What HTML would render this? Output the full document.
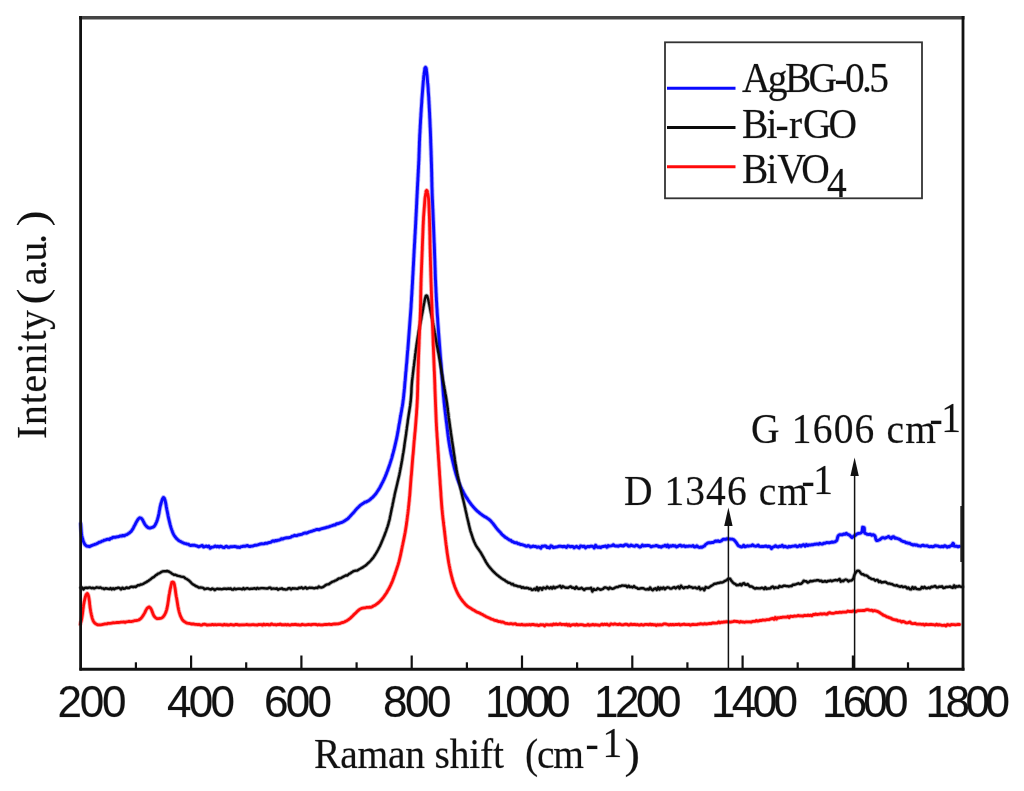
<!DOCTYPE html>
<html lang="en">
<head>
<meta charset="utf-8">
<title>Raman spectra</title>
<style>
  html, body { margin:0; padding:0; background:#fff; }
  body { width:1024px; height:791px; overflow:hidden; }
  svg { display:block; }
  .serif { font-family:"Liberation Serif", serif; font-size:42px; fill:#111; stroke:#111; stroke-opacity:0.3; stroke-width:0.6px; paint-order:stroke fill; }
  .sans { font-family:"Liberation Sans", sans-serif; font-size:44px; fill:#111; stroke:#111; stroke-opacity:0.3; stroke-width:0.5px; paint-order:stroke fill; }
</style>
</head>
<body>
<svg width="1024" height="791" viewBox="0 0 1024 791">
  <defs>
    <path id="cBlue" d="M80.7,523.7 80.8,525.0 80.9,526.4 81.0,527.7 81.1,529.1 81.2,530.4 81.3,531.8 81.4,533.1 81.6,534.4 81.8,535.8 82.1,537.2 82.5,538.5 82.9,539.8 83.3,541.0 83.7,542.1 84.2,543.2 84.8,544.3 85.5,545.2 86.7,546.1 88.3,546.3 89.4,546.6 90.4,546.1 91.5,545.6 92.8,545.1 94.1,544.7 95.4,544.2 96.6,543.8 97.9,543.1 99.2,542.2 100.5,542.1 101.8,541.2 103.1,540.9 104.4,540.1 105.6,540.0 106.8,539.4 108.0,539.2 109.3,539.6 110.5,538.4 111.7,538.2 113.0,537.3 114.2,537.3 115.4,537.3 116.6,536.9 117.9,536.8 119.1,536.5 120.3,535.9 121.6,536.1 122.9,535.4 124.3,535.9 125.6,534.9 126.9,534.6 128.1,533.8 129.2,533.1 130.3,532.1 131.2,531.3 132.0,530.2 132.7,529.2 133.3,528.1 133.8,527.0 134.4,525.8 135.1,524.7 135.7,523.4 136.3,522.2 137.0,521.0 137.7,519.9 138.6,518.6 139.8,517.8 141.0,518.1 142.0,519.0 142.7,520.1 143.3,521.3 143.9,522.5 144.5,523.7 145.2,524.8 146.1,525.9 147.2,527.0 148.4,527.8 150.0,528.1 151.6,527.6 152.9,527.2 154.0,526.5 154.9,525.4 155.5,524.3 156.0,523.2 156.5,522.1 157.0,520.9 157.4,519.7 157.7,518.5 158.1,517.3 158.4,515.9 158.7,514.6 159.0,513.3 159.2,511.9 159.4,510.6 159.7,509.2 159.9,507.9 160.2,506.5 160.5,505.3 160.9,504.0 161.2,502.7 161.6,501.5 162.0,500.2 162.4,499.1 163.4,497.4 164.4,498.4 165.0,500.1 165.3,501.4 165.6,502.7 165.9,504.1 166.1,505.4 166.3,506.8 166.6,508.1 166.8,509.5 167.1,510.8 167.4,512.1 167.6,513.4 167.9,514.7 168.1,516.0 168.4,517.3 168.7,518.6 169.0,519.9 169.3,521.1 169.6,522.4 169.9,523.7 170.2,524.9 170.6,526.2 170.9,527.4 171.3,528.6 171.7,529.8 172.2,531.0 172.6,532.2 173.1,533.4 173.6,534.4 174.2,535.5 174.9,536.5 175.6,537.4 176.3,538.3 177.3,539.2 178.3,540.2 179.5,540.9 180.6,541.5 181.9,542.2 183.1,542.8 184.4,543.4 185.8,543.6 187.1,544.1 188.3,544.1 189.6,545.2 190.8,545.5 192.1,545.2 193.3,545.3 194.6,545.2 195.9,545.8 197.2,546.0 198.5,546.9 199.7,546.3 201.0,546.0 202.3,545.4 203.6,547.0 204.9,546.6 206.2,546.0 207.5,546.8 208.8,546.1 210.1,548.2 211.4,547.3 212.6,547.1 213.9,546.8 215.2,546.0 216.5,546.8 217.8,546.3 219.1,547.1 220.4,546.1 221.7,546.6 223.0,547.4 224.2,547.6 225.5,546.5 226.8,546.3 228.1,547.3 229.4,547.3 230.7,546.6 232.0,546.7 233.3,546.6 234.6,546.4 235.8,546.6 237.1,547.3 238.4,547.0 239.7,547.5 241.0,546.6 242.3,546.5 243.6,546.1 244.9,546.3 246.2,545.8 247.4,545.5 248.7,546.3 250.0,546.5 251.3,546.1 252.6,546.1 253.9,545.6 255.2,545.1 256.5,545.2 257.8,544.8 259.0,544.4 260.4,544.0 261.7,543.8 263.0,543.9 264.3,543.7 265.6,543.2 266.9,543.4 268.2,542.7 269.4,542.5 270.7,542.3 271.9,541.4 273.1,540.8 274.3,541.3 275.5,540.5 276.7,540.8 277.9,540.2 279.1,540.1 280.3,539.7 281.5,538.6 282.8,539.1 284.2,538.3 285.5,538.0 286.9,537.8 288.2,537.8 289.5,537.5 290.9,537.2 292.2,536.1 293.4,536.1 294.6,535.3 295.8,535.7 297.0,535.6 298.2,534.9 299.4,534.8 300.6,534.5 301.8,534.4 303.0,533.6 304.2,533.2 305.4,532.9 306.5,533.2 307.7,532.6 308.9,532.0 310.1,531.7 311.3,531.3 312.5,531.0 313.7,530.5 315.0,530.1 316.4,529.5 317.7,529.4 319.1,529.8 320.4,529.1 321.8,528.7 323.1,528.3 324.4,528.0 325.7,527.8 326.9,527.2 328.1,527.1 329.3,526.7 330.5,526.1 331.6,525.8 332.8,525.4 334.0,525.0 335.2,525.0 336.4,523.8 337.6,523.8 338.9,523.3 340.1,522.8 341.3,522.5 342.5,522.1 343.7,521.4 344.8,520.7 345.9,520.0 347.0,519.3 347.9,518.6 348.9,517.6 349.8,516.6 350.6,515.7 351.5,514.7 352.4,513.8 353.3,512.9 354.2,511.8 355.0,510.8 355.9,509.8 356.8,508.7 357.7,507.8 358.6,507.0 359.6,506.0 360.5,505.1 361.5,504.4 362.5,503.8 363.5,503.2 364.6,502.2 365.8,502.1 367.1,501.4 368.2,500.9 369.3,500.2 370.3,499.4 371.3,498.4 372.3,497.6 373.3,496.6 374.2,495.7 375.0,494.7 375.9,493.7 376.7,492.5 377.5,491.3 378.2,490.2 378.9,489.1 379.6,488.0 380.3,486.7 380.9,485.5 381.5,484.3 382.1,483.1 382.8,481.9 383.3,480.7 383.9,479.6 384.4,478.4 384.9,477.3 385.4,476.1 385.9,474.9 386.4,473.7 386.8,472.5 387.3,471.3 387.8,470.1 388.2,468.8 388.6,467.6 389.1,466.4 389.5,465.1 389.9,463.9 390.3,462.6 390.7,461.4 391.1,460.1 391.5,458.9 391.9,457.6 392.2,456.3 392.6,455.0 392.9,453.7 393.3,452.4 393.6,451.1 394.0,449.8 394.3,448.5 394.6,447.2 394.9,445.9 395.2,444.6 395.5,443.3 395.8,442.0 396.1,440.7 396.4,439.4 396.7,438.2 396.9,436.9 397.2,435.7 397.4,434.4 397.6,433.2 397.9,431.9 398.1,430.7 398.3,429.4 398.5,428.2 398.7,426.9 398.9,425.7 399.1,424.4 399.4,423.2 399.6,421.9 399.8,420.7 400.0,419.4 400.2,418.2 400.4,416.9 400.7,415.6 400.9,414.3 401.1,413.0 401.4,411.7 401.6,410.4 401.8,409.1 402.0,407.8 402.3,406.5 402.5,405.2 402.7,403.9 402.9,402.6 403.0,401.3 403.2,400.0 403.4,398.7 403.5,397.4 403.7,396.1 403.8,394.7 403.9,393.4 404.1,392.1 404.2,390.8 404.3,389.5 404.5,388.2 404.6,386.8 404.7,385.5 404.8,384.2 404.9,382.9 405.0,381.6 405.2,380.2 405.3,378.9 405.4,377.6 405.5,376.3 405.6,375.0 405.7,373.6 405.8,372.3 406.0,371.0 406.1,369.7 406.2,368.4 406.3,367.0 406.4,365.7 406.5,364.4 406.7,363.1 406.8,361.8 406.9,360.5 407.0,359.1 407.1,357.8 407.2,356.5 407.3,355.2 407.4,353.9 407.5,352.6 407.6,351.2 407.8,349.9 407.9,348.6 408.0,347.3 408.1,346.0 408.2,344.7 408.3,343.3 408.4,342.0 408.5,340.7 408.6,339.4 408.7,338.1 408.8,336.7 408.9,335.4 409.0,334.1 409.1,332.8 409.2,331.4 409.3,330.1 409.4,328.8 409.5,327.5 409.6,326.2 409.7,324.8 409.8,323.5 409.9,322.2 410.0,320.9 410.1,319.6 410.2,318.2 410.3,316.9 410.4,315.6 410.5,314.3 410.6,312.9 410.7,311.6 410.8,310.3 410.9,309.0 411.0,307.7 411.1,306.3 411.1,305.0 411.2,303.7 411.3,302.4 411.4,301.1 411.5,299.8 411.5,298.4 411.6,297.1 411.7,295.8 411.8,294.5 411.9,293.2 411.9,291.9 412.0,290.5 412.1,289.2 412.2,287.9 412.2,286.6 412.3,285.3 412.4,284.0 412.5,282.6 412.5,281.3 412.6,280.0 412.7,278.7 412.7,277.4 412.8,276.0 412.9,274.7 413.0,273.4 413.0,272.1 413.1,270.8 413.2,269.5 413.2,268.1 413.3,266.8 413.4,265.5 413.5,264.2 413.5,262.9 413.6,261.5 413.7,260.2 413.7,258.9 413.8,257.6 413.9,256.3 413.9,255.0 414.0,253.6 414.1,252.3 414.1,251.0 414.2,249.7 414.3,248.4 414.4,247.0 414.4,245.7 414.5,244.4 414.6,243.1 414.7,241.8 414.7,240.5 414.8,239.1 414.9,237.8 414.9,236.5 415.0,235.2 415.1,233.9 415.2,232.6 415.2,231.2 415.3,229.9 415.4,228.6 415.5,227.3 415.5,226.0 415.6,224.7 415.7,223.3 415.7,222.0 415.8,220.7 415.9,219.4 415.9,218.1 416.0,216.7 416.1,215.4 416.1,214.1 416.2,212.8 416.3,211.4 416.3,210.1 416.4,208.8 416.5,207.5 416.5,206.2 416.6,204.8 416.7,203.5 416.7,202.2 416.8,200.9 416.8,199.6 416.9,198.2 417.0,196.9 417.0,195.6 417.1,194.3 417.2,192.9 417.2,191.6 417.3,190.3 417.4,189.0 417.4,187.7 417.5,186.3 417.6,185.0 417.6,183.7 417.7,182.4 417.8,181.1 417.9,179.8 417.9,178.4 418.0,177.1 418.1,175.8 418.1,174.5 418.2,173.2 418.3,171.9 418.3,170.5 418.4,169.2 418.5,167.9 418.5,166.6 418.6,165.3 418.7,164.0 418.7,162.6 418.8,161.3 418.9,160.0 418.9,158.7 419.0,157.5 419.0,156.2 419.0,154.9 419.1,153.7 419.1,152.4 419.2,151.1 419.2,149.9 419.2,148.6 419.3,147.3 419.3,146.1 419.4,144.8 419.4,143.5 419.4,142.3 419.5,141.0 419.6,139.7 419.6,138.3 419.7,137.0 419.7,135.7 419.8,134.3 419.9,133.0 420.0,131.7 420.0,130.3 420.1,129.0 420.2,127.6 420.2,126.3 420.3,125.0 420.4,123.6 420.5,122.3 420.5,121.0 420.6,119.6 420.7,118.3 420.8,117.0 420.9,115.8 420.9,114.5 421.0,113.2 421.1,112.0 421.2,110.7 421.2,109.4 421.3,108.2 421.4,106.9 421.5,105.6 421.6,104.4 421.7,103.1 421.8,101.8 421.8,100.6 421.9,99.3 422.0,98.0 422.1,96.8 422.2,95.5 422.3,94.2 422.4,92.9 422.5,91.6 422.6,90.3 422.7,89.0 422.8,87.7 422.9,86.4 423.0,85.1 423.1,83.8 423.2,82.5 423.3,81.2 423.5,79.9 423.6,78.6 423.7,77.3 423.8,76.1 424.0,74.9 424.1,73.6 424.3,72.4 424.5,71.2 424.7,70.0 424.8,68.3 425.5,67.3 426.2,68.3 426.3,70.0 426.5,71.2 426.7,72.4 426.8,73.6 427.0,74.9 427.1,76.1 427.2,77.3 427.3,78.6 427.4,79.9 427.5,81.2 427.6,82.5 427.8,83.8 427.9,85.1 428.0,86.4 428.1,87.7 428.2,89.0 428.2,90.3 428.3,91.6 428.4,92.9 428.5,94.2 428.6,95.5 428.7,96.8 428.8,98.0 428.8,99.3 428.9,100.6 429.0,101.8 429.0,103.1 429.1,104.4 429.2,105.6 429.2,106.9 429.3,108.2 429.4,109.4 429.4,110.7 429.5,112.0 429.6,113.2 429.6,114.5 429.7,115.8 429.7,117.0 429.8,118.3 429.9,119.6 429.9,121.0 430.0,122.3 430.0,123.6 430.1,125.0 430.1,126.3 430.2,127.6 430.3,129.0 430.3,130.3 430.4,131.7 430.4,133.0 430.5,134.3 430.5,135.7 430.6,137.0 430.6,138.3 430.7,139.7 430.7,141.0 430.7,142.3 430.8,143.6 430.8,145.0 430.9,146.3 430.9,147.6 431.0,148.9 431.0,150.2 431.1,151.5 431.1,152.9 431.1,154.2 431.2,155.5 431.2,156.8 431.3,158.1 431.3,159.5 431.3,160.8 431.4,162.1 431.4,163.4 431.5,164.7 431.5,166.0 431.5,167.4 431.6,168.7 431.6,170.0 431.6,171.3 431.7,172.5 431.7,173.8 431.7,175.1 431.7,176.3 431.8,177.6 431.8,178.9 431.8,180.2 431.8,181.4 431.9,182.7 431.9,184.0 431.9,185.2 431.9,186.5 432.0,187.8 432.0,189.0 432.1,190.3 432.1,191.6 432.1,192.9 432.2,194.3 432.2,195.6 432.3,196.9 432.3,198.2 432.4,199.6 432.5,200.9 432.5,202.2 432.6,203.5 432.6,204.8 432.7,206.2 432.7,207.5 432.8,208.8 432.9,210.1 432.9,211.4 433.0,212.8 433.0,214.1 433.1,215.4 433.1,216.7 433.2,218.1 433.2,219.4 433.3,220.7 433.4,222.0 433.4,223.3 433.5,224.7 433.5,226.0 433.6,227.3 433.6,228.6 433.7,229.9 433.7,231.2 433.8,232.6 433.8,233.9 433.9,235.2 433.9,236.5 434.0,237.8 434.0,239.1 434.1,240.5 434.1,241.8 434.2,243.1 434.3,244.4 434.3,245.7 434.4,247.0 434.4,248.4 434.5,249.7 434.5,251.0 434.5,252.3 434.6,253.6 434.6,255.0 434.7,256.3 434.7,257.6 434.8,258.9 434.8,260.2 434.9,261.5 434.9,262.9 434.9,264.2 435.0,265.5 435.0,266.8 435.1,268.1 435.1,269.5 435.2,270.8 435.2,272.1 435.2,273.4 435.3,274.7 435.3,276.0 435.4,277.4 435.4,278.7 435.5,280.0 435.6,281.3 435.6,282.6 435.7,284.0 435.7,285.3 435.8,286.6 435.9,287.9 435.9,289.2 436.0,290.5 436.0,291.9 436.1,293.2 436.2,294.5 436.2,295.8 436.3,297.1 436.4,298.4 436.4,299.8 436.5,301.1 436.6,302.4 436.7,303.7 436.7,305.0 436.8,306.3 436.9,307.7 437.0,309.0 437.1,310.3 437.1,311.6 437.2,312.9 437.3,314.3 437.4,315.6 437.5,316.9 437.6,318.2 437.7,319.6 437.7,320.9 437.8,322.2 437.9,323.5 438.0,324.8 438.1,326.2 438.2,327.5 438.3,328.8 438.4,330.1 438.5,331.5 438.6,332.8 438.7,334.1 438.8,335.4 438.9,336.7 439.0,338.1 439.1,339.4 439.2,340.7 439.3,342.0 439.4,343.3 439.5,344.7 439.6,346.0 439.7,347.3 439.8,348.6 439.9,349.9 440.0,351.2 440.1,352.6 440.2,353.9 440.3,355.2 440.4,356.5 440.5,357.8 440.6,359.1 440.8,360.5 440.9,361.8 441.0,363.1 441.1,364.4 441.2,365.7 441.3,367.0 441.4,368.4 441.5,369.7 441.6,371.0 441.7,372.3 441.8,373.6 441.9,375.0 442.0,376.3 442.1,377.6 442.2,378.9 442.3,380.2 442.4,381.5 442.5,382.9 442.6,384.2 442.7,385.5 442.8,386.8 442.9,388.1 443.0,389.5 443.1,390.8 443.2,392.1 443.3,393.4 443.4,394.7 443.5,396.0 443.7,397.4 443.8,398.7 443.9,400.0 444.0,401.3 444.1,402.5 444.3,403.8 444.4,405.1 444.5,406.3 444.7,407.6 444.8,408.9 445.0,410.1 445.1,411.4 445.3,412.6 445.4,413.9 445.6,415.2 445.7,416.4 445.9,417.7 446.0,419.0 446.2,420.2 446.3,421.5 446.5,422.8 446.7,424.0 446.8,425.3 447.0,426.5 447.1,427.8 447.3,429.1 447.4,430.3 447.6,431.6 447.7,432.9 447.9,434.1 448.0,435.4 448.2,436.7 448.4,437.9 448.5,439.2 448.7,440.5 448.9,441.7 449.1,443.0 449.3,444.2 449.5,445.5 449.7,446.8 450.0,448.1 450.2,449.4 450.4,450.7 450.7,452.0 450.9,453.3 451.2,454.6 451.5,455.9 451.8,457.2 452.1,458.5 452.4,459.8 452.7,461.1 453.0,462.4 453.3,463.7 453.6,464.9 453.9,466.2 454.2,467.4 454.5,468.6 454.8,469.8 455.2,471.1 455.5,472.3 455.8,473.5 456.2,474.7 456.6,475.9 456.9,477.1 457.3,478.3 457.7,479.5 458.2,480.7 458.6,481.9 459.1,483.1 459.6,484.3 460.1,485.5 460.6,486.8 461.2,487.9 461.8,489.1 462.4,490.2 463.0,491.4 463.6,492.6 464.2,493.7 464.9,494.9 465.5,496.0 466.2,497.1 466.9,498.2 467.6,499.2 468.3,500.3 469.0,501.3 469.7,502.4 470.5,503.4 471.2,504.5 472.0,505.4 472.8,506.3 473.6,507.3 474.5,508.2 475.3,509.1 476.2,510.0 477.1,511.0 478.0,511.7 479.0,512.5 480.0,513.3 481.0,514.1 482.0,514.8 483.0,515.6 484.0,516.2 485.1,516.9 486.2,517.4 487.2,518.2 488.3,518.8 489.3,519.6 490.2,520.4 491.1,521.3 492.0,522.4 492.9,523.4 493.7,524.5 494.5,525.5 495.3,526.6 496.1,527.7 496.9,528.7 497.8,529.7 498.7,530.8 499.6,531.7 500.5,532.5 501.4,533.8 502.4,534.8 503.3,535.5 504.3,536.4 505.4,537.4 506.4,537.8 507.5,538.7 508.5,539.3 509.6,540.1 510.8,540.3 511.9,541.6 513.1,541.8 514.2,542.5 515.5,542.8 516.7,542.7 517.9,543.7 519.2,543.7 520.5,544.6 521.8,544.5 523.1,545.0 524.3,545.3 525.6,546.1 526.9,546.3 528.1,545.5 529.4,546.1 530.6,547.1 531.9,546.7 533.2,546.0 534.5,546.5 535.7,546.4 537.0,547.3 538.3,546.8 539.5,547.1 540.8,548.2 542.0,546.1 543.3,546.3 544.6,545.9 545.8,546.0 547.1,547.5 548.4,547.2 549.6,547.9 550.9,545.7 552.2,546.3 553.5,547.6 554.8,547.2 556.1,547.0 557.4,546.9 558.7,546.3 560.0,546.2 561.5,546.4 562.7,546.9 564.0,546.3 565.3,546.7 566.5,547.4 567.8,545.8 569.1,546.1 570.3,546.9 571.6,546.4 572.9,546.5 574.1,547.8 575.4,546.8 576.6,546.3 577.9,547.3 579.2,548.1 580.4,545.9 581.7,546.2 583.0,546.7 584.2,546.2 585.5,547.9 586.8,546.9 588.0,546.4 589.3,546.9 590.5,546.1 591.8,546.2 593.1,546.6 594.3,548.0 595.6,545.2 596.9,546.8 598.1,547.3 599.4,546.9 600.7,547.6 601.9,546.7 603.2,546.5 604.4,546.3 605.7,545.9 607.0,547.3 608.2,545.6 609.5,546.1 610.8,545.9 612.0,545.6 613.3,544.7 614.6,545.8 615.8,546.0 617.1,545.9 618.3,546.3 619.6,545.6 620.9,545.3 622.1,545.8 623.4,546.0 624.7,545.0 625.9,544.6 627.2,544.9 628.5,546.2 629.7,546.1 631.0,545.0 632.2,545.6 633.5,546.0 634.8,546.3 636.0,545.2 637.3,545.4 638.6,546.4 639.8,547.1 641.1,546.6 642.4,545.0 643.6,546.0 644.9,545.5 646.1,545.7 647.4,545.4 648.7,545.5 649.9,545.8 651.2,546.9 652.5,546.3 653.7,546.1 655.0,545.9 656.3,545.5 657.5,545.8 658.8,546.7 660.0,546.5 661.3,547.2 662.6,546.2 663.8,546.1 665.1,545.2 666.4,546.4 667.6,545.1 668.9,547.1 670.2,545.8 671.4,546.2 672.7,545.4 673.9,546.0 675.2,545.7 676.5,547.0 677.7,546.4 679.0,545.6 680.3,545.1 681.5,546.3 682.8,546.0 684.1,545.7 685.3,546.7 686.6,546.2 687.8,546.4 689.1,546.0 690.4,546.1 691.7,546.2 693.0,545.6 694.3,547.0 695.5,546.9 696.8,545.7 698.1,546.9 699.4,547.5 700.7,547.0 702.0,547.4 703.3,546.5 704.4,546.0 705.4,544.7 706.5,543.9 707.8,543.0 709.1,542.7 710.5,542.8 711.9,542.5 713.1,542.5 714.3,541.8 715.5,541.0 716.8,541.4 718.0,540.8 719.2,541.5 720.5,541.3 721.7,540.6 723.0,539.3 724.3,539.3 725.6,539.4 726.9,538.7 728.3,539.1 729.8,539.0 731.2,539.1 732.3,539.1 733.4,539.5 734.4,540.3 735.2,541.2 735.9,542.1 736.6,543.0 737.2,544.1 737.8,545.1 738.7,545.9 739.9,546.4 741.2,547.0 742.4,546.8 743.7,545.3 745.0,546.8 746.2,546.4 747.5,545.8 748.7,546.2 750.0,545.9 751.3,545.7 752.7,544.8 754.0,545.9 755.4,546.2 756.7,546.0 758.1,545.1 759.4,546.4 760.7,546.6 762.1,546.4 763.4,546.6 764.8,546.2 766.1,546.0 767.5,546.8 768.8,546.3 770.1,546.7 771.5,548.6 772.8,547.1 774.2,546.7 775.5,545.7 776.9,546.7 778.2,547.1 779.5,546.2 780.9,546.5 782.2,545.3 783.6,546.9 784.9,546.2 786.3,546.9 787.6,547.3 788.9,546.3 790.3,546.9 791.6,546.4 793.0,546.1 794.3,546.0 795.7,545.6 797.0,546.8 798.3,546.4 799.7,545.3 801.0,546.3 802.4,545.2 803.7,544.7 805.1,546.1 806.4,544.5 807.7,545.6 809.1,544.9 810.4,545.1 811.8,544.7 813.1,544.8 814.4,544.2 815.8,544.2 817.1,543.9 818.5,544.3 819.8,543.3 821.2,544.0 822.5,544.1 823.8,543.1 825.2,543.2 826.6,542.5 827.9,542.6 829.3,542.8 830.7,542.4 832.1,542.0 833.4,542.2 834.7,541.9 835.9,541.3 836.8,540.4 837.2,539.2 837.5,537.9 837.9,536.5 838.5,535.4 839.6,534.7 841.0,534.7 842.4,534.9 843.7,534.0 845.1,534.2 846.4,533.3 847.7,534.4 848.9,534.8 849.9,535.5 850.9,536.6 852.0,537.6 853.2,536.7 854.3,535.6 855.3,535.5 856.3,534.4 857.4,533.9 858.5,533.4 859.7,533.4 860.8,533.0 861.7,532.2 862.2,530.7 862.4,528.8 862.6,527.2 863.4,527.4 864.2,527.6 864.4,529.0 864.4,530.5 864.4,532.1 864.9,533.3 866.0,533.6 867.4,534.4 868.9,534.5 870.3,534.2 871.8,535.3 873.3,534.6 874.6,535.5 875.3,536.6 875.6,538.1 875.9,539.4 876.7,540.6 877.8,540.5 878.9,540.0 879.9,539.6 881.0,538.7 882.3,537.7 883.6,537.7 884.9,538.3 886.2,537.6 887.5,537.0 888.7,536.4 890.0,537.8 891.2,538.5 892.4,537.0 893.7,536.6 894.9,538.2 896.1,538.0 897.4,538.5 898.6,539.0 899.8,539.4 901.0,540.4 902.2,541.1 903.4,541.5 904.7,541.7 905.9,542.7 907.1,542.7 908.3,543.3 909.5,543.1 910.8,544.1 912.0,544.5 913.3,545.1 914.5,544.7 915.7,545.2 916.9,544.9 918.2,545.8 919.4,545.9 920.6,546.2 921.9,545.5 923.2,545.2 924.5,545.9 925.9,545.9 927.2,545.6 928.6,546.5 929.9,546.7 931.3,546.4 932.6,546.8 933.9,546.4 935.3,545.6 936.6,545.9 938.0,546.0 939.3,546.6 940.7,546.8 942.0,546.3 943.3,546.8 944.6,545.7 945.8,546.2 947.1,547.2 948.3,546.5 949.5,546.8 950.8,545.6 951.9,545.6 952.5,544.1 953.0,543.3 953.6,543.9 953.6,545.1 954.1,546.1 955.3,546.2 956.7,546.2 958.1,546.9 959.5,546.4"/>
    <path id="cBlack" d="M80.7,587.8 82.1,587.5 83.4,589.4 84.8,587.9 86.1,587.8 87.5,588.0 88.8,587.6 90.1,587.5 91.5,588.2 92.8,587.8 94.1,588.5 95.3,588.0 96.6,587.3 97.9,587.6 99.2,587.9 100.5,587.4 101.8,588.4 103.1,588.4 104.4,589.1 105.6,588.2 106.8,588.5 108.1,588.9 109.3,589.0 110.5,588.1 111.7,589.4 113.0,588.3 114.3,589.2 115.7,588.3 117.0,588.2 118.3,587.7 119.7,588.2 121.0,589.4 122.4,587.7 123.7,588.7 125.1,588.5 126.4,587.5 127.8,588.0 129.1,588.0 130.4,587.0 131.8,586.7 133.1,587.2 134.4,586.6 135.7,587.0 136.9,586.0 138.2,585.1 139.4,585.2 140.6,584.4 141.9,584.5 143.0,584.0 144.2,583.2 145.3,582.6 146.3,582.2 147.4,581.3 148.4,580.9 149.5,579.9 150.6,579.2 151.6,578.4 152.7,577.5 153.8,577.1 154.8,576.2 155.9,575.2 157.0,574.7 158.0,573.6 159.1,573.4 160.2,572.8 161.3,572.0 162.7,571.4 164.1,571.2 165.6,571.2 167.1,571.0 168.5,571.4 169.9,572.2 171.0,572.8 172.0,573.7 173.1,574.3 174.2,574.9 175.5,574.8 176.8,575.5 178.2,575.9 179.6,576.1 181.0,576.6 182.5,576.9 183.9,577.0 185.0,578.1 186.1,578.7 187.1,579.2 188.2,580.1 189.3,580.8 190.3,581.8 191.3,582.9 192.4,584.0 193.5,584.6 194.5,585.1 195.6,586.0 196.7,586.4 197.8,586.9 199.1,587.7 200.4,587.4 201.8,587.6 203.2,587.9 204.5,589.2 205.8,588.8 207.0,588.5 208.3,588.5 209.6,589.2 210.9,589.5 212.2,588.5 213.5,589.0 214.8,590.1 216.1,589.1 217.4,588.7 218.7,589.0 220.0,588.9 221.4,589.2 222.7,589.0 224.0,588.6 225.3,588.8 226.7,589.0 228.0,588.5 229.3,588.9 230.6,588.4 231.9,589.5 233.3,589.6 234.5,588.4 235.8,589.3 237.1,588.9 238.3,588.8 239.6,588.7 240.8,588.9 242.1,589.3 243.4,588.1 244.6,589.3 245.9,588.6 247.2,588.2 248.4,588.7 249.7,589.0 251.0,588.6 252.2,588.8 253.5,588.5 254.7,588.3 256.1,589.0 257.4,587.9 258.7,588.7 260.0,588.4 261.3,588.1 262.6,588.1 263.9,588.2 265.2,588.4 266.4,588.5 267.7,588.5 269.0,587.7 270.3,587.6 271.6,589.0 272.9,588.5 274.2,588.6 275.5,588.8 276.8,588.3 278.0,589.7 279.3,588.9 280.6,588.8 281.9,588.3 283.2,589.3 284.5,589.2 285.8,589.6 287.1,589.3 288.4,588.3 289.7,588.1 291.1,589.4 292.4,588.3 293.7,588.5 295.0,588.4 296.4,588.7 297.7,588.7 299.0,587.8 300.3,588.0 301.6,587.3 303.0,588.5 304.3,588.1 305.6,587.3 306.9,588.7 308.3,588.1 309.6,587.6 310.9,587.9 312.2,587.8 313.6,588.2 314.9,588.2 316.2,587.7 317.5,588.1 318.8,586.5 320.2,587.4 321.4,587.5 322.7,587.1 323.9,586.5 325.1,585.5 326.3,584.7 327.5,584.4 328.7,584.3 330.0,583.3 331.2,582.5 332.4,581.7 333.7,581.4 334.9,580.7 336.1,580.3 337.3,579.6 338.6,578.5 339.8,578.4 341.0,578.1 342.3,577.3 343.5,576.6 344.7,576.0 345.9,575.4 347.1,575.5 348.2,574.7 349.3,573.7 350.4,573.4 351.5,572.3 352.6,571.8 353.7,571.1 354.9,570.8 356.1,570.6 357.3,570.5 358.5,569.7 359.7,569.0 360.8,568.5 361.8,567.8 362.9,567.3 363.9,566.5 364.9,566.0 365.8,565.3 366.9,564.4 367.9,563.3 368.9,562.5 369.9,561.5 370.8,560.5 371.7,559.4 372.6,558.4 373.4,557.4 374.1,556.3 374.8,555.3 375.5,554.2 376.2,553.0 376.9,551.9 377.5,550.8 378.1,549.7 378.7,548.5 379.3,547.3 379.9,546.2 380.4,545.0 381.0,543.7 381.5,542.5 382.0,541.3 382.5,540.1 383.0,538.9 383.5,537.6 384.0,536.4 384.5,535.3 384.9,534.1 385.3,532.9 385.8,531.7 386.2,530.6 386.6,529.4 387.0,528.2 387.4,527.1 387.8,525.9 388.2,524.7 388.5,523.5 388.8,522.2 389.2,520.9 389.5,519.7 389.8,518.4 390.0,517.1 390.3,515.8 390.6,514.5 390.8,513.2 391.1,511.9 391.4,510.6 391.6,509.3 391.9,508.0 392.2,506.7 392.5,505.4 392.7,504.1 393.0,502.8 393.3,501.5 393.5,500.2 393.8,498.8 394.1,497.5 394.4,496.2 394.6,494.9 394.9,493.6 395.2,492.3 395.5,491.0 395.8,489.7 396.1,488.5 396.4,487.2 396.7,485.9 397.0,484.7 397.3,483.4 397.6,482.1 397.9,480.9 398.2,479.6 398.5,478.3 398.8,477.1 399.1,475.8 399.4,474.5 399.6,473.2 399.9,471.9 400.1,470.6 400.4,469.3 400.6,468.0 400.9,466.7 401.1,465.4 401.4,464.1 401.6,462.8 401.8,461.5 402.1,460.2 402.3,458.9 402.5,457.6 402.7,456.3 402.9,455.0 403.1,453.7 403.4,452.4 403.6,451.0 403.8,449.7 404.0,448.4 404.2,447.1 404.4,445.8 404.5,444.5 404.7,443.2 404.9,441.8 405.1,440.5 405.3,439.2 405.5,437.9 405.7,436.6 405.9,435.3 406.1,434.0 406.2,432.7 406.4,431.3 406.6,430.0 406.8,428.7 406.9,427.4 407.1,426.1 407.3,424.8 407.5,423.5 407.7,422.1 407.8,420.8 408.0,419.5 408.2,418.2 408.4,416.9 408.6,415.6 408.8,414.3 409.0,413.0 409.2,411.7 409.4,410.4 409.6,409.1 409.8,407.8 410.0,406.5 410.2,405.2 410.3,403.9 410.5,402.6 410.7,401.3 410.8,400.0 410.9,398.7 411.0,397.4 411.1,396.1 411.2,394.8 411.3,393.5 411.4,392.2 411.4,390.9 411.5,389.6 411.5,388.3 411.6,387.0 411.7,385.7 411.8,384.4 411.9,383.1 412.0,381.8 412.1,380.5 412.3,379.3 412.4,378.0 412.6,376.7 412.7,375.4 412.9,374.2 413.0,372.9 413.2,371.6 413.3,370.3 413.5,369.1 413.6,367.8 413.8,366.5 414.0,365.2 414.1,363.9 414.3,362.6 414.4,361.3 414.6,360.0 414.8,358.7 414.9,357.4 415.1,356.1 415.2,354.8 415.4,353.5 415.6,352.2 415.7,350.9 415.9,349.6 416.1,348.3 416.3,347.0 416.5,345.8 416.6,344.5 416.8,343.2 417.0,342.0 417.2,340.7 417.4,339.4 417.6,338.2 417.8,336.9 418.0,335.6 418.2,334.4 418.4,333.1 418.6,331.8 418.9,330.6 419.1,329.3 419.4,328.0 419.6,326.8 419.9,325.5 420.1,324.2 420.4,323.0 420.6,321.7 420.9,320.4 421.2,319.2 421.4,317.9 421.6,316.6 421.9,315.3 422.1,314.0 422.4,312.8 422.6,311.5 422.8,310.2 423.1,308.9 423.3,307.6 423.5,306.3 423.8,305.1 424.0,303.8 424.3,302.5 424.5,301.2 424.8,299.8 425.1,298.4 425.5,297.0 425.8,295.9 426.4,295.5 427.1,295.8 427.4,297.0 427.9,298.4 428.3,299.8 428.6,301.2 428.9,302.4 429.1,303.7 429.4,304.9 429.6,306.2 429.9,307.4 430.1,308.7 430.3,309.9 430.6,311.2 430.8,312.4 431.1,313.7 431.3,314.9 431.6,316.2 431.8,317.4 432.1,318.7 432.3,319.9 432.6,321.2 432.8,322.4 433.1,323.7 433.3,325.0 433.6,326.2 433.8,327.5 434.1,328.7 434.3,330.0 434.5,331.2 434.7,332.5 435.0,333.7 435.2,335.0 435.4,336.2 435.6,337.5 435.8,338.7 436.0,340.0 436.2,341.2 436.4,342.5 436.6,343.7 436.8,345.0 437.1,346.4 437.4,347.7 437.6,349.1 437.9,350.4 438.1,351.8 438.4,353.1 438.7,354.5 438.9,355.8 439.1,357.1 439.3,358.3 439.6,359.6 439.8,360.9 440.0,362.1 440.2,363.4 440.4,364.7 440.6,365.9 440.8,367.2 441.0,368.5 441.2,369.7 441.4,371.0 441.6,372.3 441.8,373.5 442.1,374.8 442.3,376.1 442.5,377.3 442.7,378.6 442.9,379.9 443.1,381.1 443.4,382.4 443.6,383.6 443.8,384.9 444.1,386.1 444.3,387.4 444.5,388.7 444.8,389.9 445.0,391.2 445.2,392.4 445.4,393.7 445.7,395.0 445.9,396.2 446.1,397.5 446.3,398.7 446.5,400.0 446.7,401.3 446.9,402.5 447.1,403.8 447.2,405.0 447.4,406.3 447.6,407.6 447.7,408.8 447.9,410.1 448.0,411.4 448.2,412.6 448.4,413.9 448.5,415.2 448.7,416.4 448.8,417.7 449.0,419.0 449.2,420.2 449.3,421.5 449.5,422.7 449.7,424.0 449.9,425.3 450.0,426.5 450.2,427.8 450.4,429.1 450.6,430.3 450.8,431.6 450.9,432.9 451.1,434.1 451.3,435.4 451.5,436.7 451.7,437.9 451.9,439.2 452.0,440.4 452.2,441.7 452.4,443.0 452.6,444.2 452.8,445.5 453.0,446.8 453.2,448.0 453.4,449.3 453.5,450.6 453.7,451.8 453.9,453.1 454.1,454.4 454.3,455.6 454.5,456.9 454.7,458.1 454.8,459.4 455.0,460.7 455.2,461.9 455.4,463.2 455.7,464.5 455.9,465.7 456.1,467.0 456.3,468.2 456.5,469.5 456.8,470.7 457.0,472.0 457.2,473.2 457.5,474.4 457.7,475.7 458.0,476.9 458.2,478.1 458.5,479.4 458.8,480.6 459.0,481.8 459.3,483.1 459.6,484.3 459.9,485.5 460.1,486.8 460.4,488.0 460.7,489.3 461.0,490.6 461.3,491.9 461.6,493.2 461.9,494.5 462.2,495.8 462.5,497.1 462.8,498.4 463.2,499.7 463.5,501.0 463.8,502.3 464.1,503.6 464.4,504.9 464.7,506.2 465.0,507.5 465.3,508.7 465.5,510.0 465.8,511.2 466.1,512.5 466.4,513.7 466.7,515.0 466.9,516.2 467.2,517.5 467.5,518.7 467.8,520.0 468.1,521.2 468.4,522.4 468.6,523.6 468.9,524.8 469.2,526.0 469.5,527.2 469.8,528.4 470.1,529.6 470.4,530.8 470.8,532.0 471.2,533.2 471.6,534.5 472.0,535.7 472.4,536.9 472.8,538.1 473.2,539.3 473.7,540.5 474.1,541.7 474.7,542.8 475.2,544.0 475.8,545.1 476.5,546.3 477.2,547.4 477.9,548.5 478.7,549.5 479.4,550.6 480.2,551.7 480.9,552.8 481.5,553.9 482.2,555.1 482.8,556.2 483.5,557.4 484.1,558.5 484.7,559.7 485.4,560.9 486.0,562.1 486.7,563.1 487.4,564.3 488.2,565.4 489.0,566.4 489.8,567.4 490.6,568.4 491.4,569.3 492.3,570.4 493.2,571.3 494.1,572.2 495.1,573.2 496.1,574.1 497.0,574.9 498.0,575.6 499.1,576.6 500.1,577.2 501.2,578.2 502.3,578.8 503.4,579.6 504.6,580.0 505.7,581.1 506.9,581.6 508.1,582.7 509.3,582.7 510.5,583.3 511.7,584.4 512.9,583.9 514.1,585.4 515.4,585.5 516.6,585.7 517.9,586.4 519.2,586.5 520.5,586.5 521.8,587.8 523.1,587.1 524.3,588.0 525.6,588.0 526.9,587.8 528.1,588.1 529.4,588.9 530.6,588.6 531.9,590.0 533.2,589.7 534.4,588.7 535.7,589.9 537.0,587.3 538.3,590.5 539.5,588.0 540.8,588.0 542.1,589.7 543.3,587.5 544.6,588.0 545.8,588.6 547.1,586.7 548.4,587.9 549.6,588.5 550.9,587.2 552.2,588.6 553.5,586.7 554.8,588.2 556.1,587.3 557.4,587.0 558.7,586.5 560.0,585.8 561.5,587.8 562.8,586.2 564.2,587.1 565.5,587.8 566.9,587.6 568.2,587.9 569.5,586.9 570.9,586.5 572.2,587.8 573.6,587.7 574.9,588.7 576.3,586.8 577.6,588.4 578.9,588.9 580.3,588.5 581.6,587.8 583.0,589.1 584.3,590.0 585.6,588.7 587.0,588.5 588.3,588.5 589.7,588.5 591.0,587.8 592.4,591.6 593.7,588.9 595.1,589.9 596.4,589.8 597.7,588.3 599.1,589.0 600.4,589.8 601.8,589.3 603.1,588.9 604.4,587.5 605.8,587.5 607.1,588.0 608.5,589.2 609.8,587.4 611.2,588.4 612.5,588.8 613.9,588.4 615.2,587.6 616.6,587.0 617.9,587.1 619.2,586.1 620.6,586.2 621.9,585.5 623.2,585.6 624.6,585.8 625.9,585.6 627.3,587.2 628.6,585.7 630.0,587.1 631.3,586.7 632.6,587.5 634.0,586.1 635.3,587.5 636.7,587.7 638.0,588.8 639.4,588.7 640.7,588.3 642.0,588.1 643.4,588.3 644.7,589.1 646.1,589.5 647.4,589.0 648.8,589.5 650.1,587.5 651.4,589.4 652.8,590.3 654.1,588.9 655.5,588.3 656.8,589.9 658.2,587.3 659.5,589.6 660.8,587.7 662.2,588.8 663.5,587.4 664.9,589.2 666.2,588.0 667.5,587.3 668.9,587.6 670.2,588.6 671.6,588.6 672.9,587.6 674.3,587.1 675.6,588.4 676.9,587.3 678.3,586.6 679.6,588.6 681.0,585.7 682.3,587.2 683.7,588.2 685.0,587.3 686.3,587.2 687.7,587.7 689.0,586.3 690.4,587.1 691.6,587.1 692.8,588.0 694.1,587.6 695.3,587.4 696.5,588.4 697.7,588.5 699.0,586.9 700.3,589.6 701.7,588.6 703.0,588.4 704.3,590.2 705.7,587.0 707.1,587.6 708.4,587.8 709.7,586.9 710.8,586.1 711.9,585.5 712.9,585.0 713.9,584.0 715.1,583.8 716.4,583.6 717.7,583.0 719.1,583.0 720.5,582.4 721.8,582.5 723.2,582.1 724.5,581.2 725.8,580.6 726.9,579.9 727.9,579.0 729.0,578.7 730.2,578.8 731.2,580.6 732.0,581.3 732.7,582.4 733.5,583.1 734.4,583.7 735.4,584.0 736.5,585.3 737.6,585.0 738.7,585.1 740.1,584.0 741.4,585.4 742.7,583.7 744.1,583.2 745.3,584.8 746.5,584.7 747.7,584.0 748.8,585.4 750.0,586.5 751.3,586.4 752.5,586.9 753.8,588.0 755.1,588.6 756.4,588.0 757.7,588.3 759.0,588.4 760.3,588.4 761.6,587.7 762.9,588.1 764.1,589.0 765.3,587.3 766.6,589.0 767.8,588.5 769.0,588.5 770.3,588.4 771.5,587.1 772.8,586.5 774.2,588.3 775.5,587.3 776.9,587.6 778.2,587.8 779.5,586.0 780.9,586.8 782.2,586.6 783.6,585.8 784.9,585.7 786.3,586.1 787.6,586.1 789.0,586.5 790.3,586.0 791.6,586.1 793.0,584.6 794.3,584.8 795.7,584.3 797.0,583.8 798.3,583.3 799.7,584.0 801.0,583.8 802.4,582.7 803.7,580.7 805.0,581.3 806.4,581.3 807.7,582.6 809.1,582.0 810.4,580.9 811.7,581.4 813.1,581.0 814.4,580.6 815.8,580.6 817.1,580.1 818.5,580.2 819.8,581.0 821.2,580.6 822.5,581.8 823.8,581.5 825.2,581.0 826.5,581.9 827.9,580.9 829.2,581.0 830.6,580.4 831.9,581.2 833.2,580.6 834.6,580.2 835.9,580.0 837.2,580.5 838.4,579.8 839.6,578.9 840.8,581.7 842.1,580.6 843.3,581.2 844.5,580.0 845.8,579.5 847.1,580.0 848.4,581.4 849.7,580.6 850.9,580.6 852.0,580.1 852.9,579.1 853.5,578.1 853.9,576.7 854.3,575.3 854.8,574.1 855.5,573.0 856.2,571.9 857.0,570.9 858.1,570.8 859.1,570.9 860.0,572.1 860.8,573.2 861.7,574.2 863.1,574.2 864.6,575.4 866.0,575.4 867.1,575.8 868.1,576.7 869.2,577.8 870.3,578.1 871.5,579.0 872.7,579.1 873.9,579.3 875.2,580.7 876.4,580.0 877.6,579.9 878.9,582.0 880.2,581.2 881.6,582.5 882.9,582.2 884.3,582.0 885.6,581.9 887.0,583.0 888.3,583.6 889.6,583.5 890.8,584.0 892.0,584.1 893.2,584.8 894.4,585.3 895.6,585.6 896.8,585.1 898.0,586.0 899.2,586.5 900.4,586.7 901.7,586.1 903.0,587.2 904.4,586.8 905.7,586.8 907.1,588.4 908.4,587.6 909.8,589.3 911.1,589.4 912.5,587.1 913.8,588.7 915.1,587.3 916.5,588.9 917.8,589.1 919.2,589.3 920.5,589.1 921.9,587.0 923.2,588.2 924.5,586.8 925.9,588.2 927.2,588.3 928.6,587.5 929.9,588.2 931.3,586.8 932.6,587.0 933.9,586.5 935.3,586.0 936.6,587.5 938.0,587.4 939.3,586.6 940.7,586.8 942.0,586.3 943.3,588.0 944.7,587.8 946.0,586.9 947.4,587.0 948.7,586.9 950.1,586.5 951.4,587.4 952.7,587.8 954.1,585.4 955.3,587.6 956.5,586.3 957.8,586.7 959.0,585.9 960.2,586.6 961.4,586.9 962.7,586.8"/>
    <path id="cRed" d="M80.3,624.2 80.6,623.0 81.0,621.8 81.3,620.6 81.6,619.4 81.8,618.2 82.0,617.0 82.2,615.7 82.4,614.5 82.6,613.2 82.7,612.0 82.9,610.7 83.0,609.4 83.2,608.2 83.4,606.9 83.5,605.7 83.7,604.4 84.0,603.2 84.2,601.9 84.5,600.7 84.7,599.5 85.0,598.2 85.4,597.0 85.7,595.8 86.1,594.6 87.2,593.4 87.9,594.4 88.4,595.6 88.7,596.8 88.9,598.0 89.1,599.3 89.3,600.6 89.5,601.9 89.6,603.2 89.7,604.5 89.9,605.8 90.0,607.1 90.2,608.4 90.4,609.6 90.6,610.9 90.8,612.1 91.1,613.3 91.3,614.5 91.6,615.7 91.9,616.9 92.2,618.1 92.6,619.3 93.1,620.6 93.8,621.9 94.7,623.0 95.7,623.8 96.7,624.4 97.9,624.8 99.2,624.8 100.5,624.8 101.8,624.7 103.1,624.3 104.4,624.0 105.6,623.9 106.8,623.9 108.1,623.3 109.3,623.4 110.5,623.3 111.7,623.2 113.0,622.7 114.3,622.8 115.6,622.7 117.0,622.5 118.3,622.5 119.7,622.4 121.0,622.1 122.4,622.1 123.7,621.9 125.1,622.4 126.4,621.8 127.7,621.6 129.1,621.3 130.4,621.6 131.8,621.5 133.1,621.2 134.4,620.7 135.9,620.6 137.3,620.3 138.6,620.0 139.8,619.3 140.9,618.4 141.8,617.4 142.6,616.2 143.4,615.1 144.1,613.9 144.7,612.9 145.2,611.8 145.7,610.7 146.3,609.6 146.9,608.6 147.8,607.7 149.1,606.9 150.3,607.8 151.2,609.2 151.8,610.5 152.2,611.8 152.7,613.1 153.2,614.4 153.8,615.7 154.7,616.9 155.7,617.8 157.0,618.7 158.6,618.6 160.2,618.3 161.4,618.1 162.6,617.4 163.4,616.5 164.2,615.5 164.8,614.4 165.4,613.2 165.9,612.1 166.3,610.8 166.7,609.6 167.0,608.4 167.2,607.2 167.5,605.9 167.7,604.7 167.9,603.4 168.1,602.1 168.3,600.9 168.5,599.6 168.6,598.4 168.8,597.1 169.0,595.8 169.2,594.6 169.5,593.2 169.7,591.9 170.0,590.6 170.2,589.2 170.5,587.9 170.8,586.5 171.1,585.2 171.4,583.9 171.8,582.4 172.7,582.0 173.7,582.5 174.2,583.8 174.5,585.1 174.7,586.4 175.0,587.7 175.2,589.0 175.4,590.3 175.5,591.6 175.7,592.9 175.9,594.2 176.1,595.5 176.3,596.7 176.6,598.0 176.8,599.3 177.0,600.5 177.2,601.8 177.4,603.0 177.6,604.3 177.8,605.6 178.0,606.8 178.3,608.1 178.5,609.3 178.8,610.5 179.1,611.8 179.5,613.1 179.9,614.4 180.3,615.7 180.9,616.9 181.5,618.1 182.1,619.3 182.9,620.3 183.8,621.2 184.9,621.9 186.0,622.7 187.2,623.2 188.5,623.4 189.8,623.5 191.1,624.0 192.4,624.0 193.8,624.0 195.1,624.4 196.5,624.4 197.8,624.7 199.2,624.5 200.5,625.1 201.8,625.1 203.2,624.3 204.5,624.2 205.8,624.5 207.2,625.1 208.5,624.9 209.8,624.8 211.1,624.8 212.4,624.4 213.8,624.8 215.1,624.5 216.4,624.8 217.7,624.6 219.1,624.6 220.4,624.6 221.6,624.8 222.9,625.2 224.2,624.3 225.4,624.9 226.7,624.6 228.0,625.1 229.2,625.0 230.5,624.5 231.7,624.7 233.0,625.0 234.3,625.1 235.5,624.5 236.8,624.4 238.1,624.8 239.3,625.0 240.6,624.9 241.9,624.8 243.2,624.8 244.4,624.8 245.7,624.7 247.0,624.5 248.3,624.9 249.6,624.8 250.9,624.9 252.2,624.7 253.5,624.6 254.8,624.9 256.1,624.9 257.4,625.1 258.7,624.4 260.0,624.6 261.3,624.6 262.5,625.2 263.8,624.1 265.1,624.9 266.3,624.5 267.6,624.4 268.8,624.9 270.1,624.9 271.4,623.9 272.6,624.4 273.9,624.7 275.2,624.6 276.4,625.0 277.7,624.5 279.0,624.6 280.2,624.1 281.5,624.8 282.8,624.7 284.1,624.9 285.3,624.5 286.6,625.1 287.9,624.5 289.2,625.1 290.5,625.1 291.8,624.5 293.1,624.7 294.4,624.5 295.7,624.3 296.9,624.8 298.2,624.7 299.5,625.0 300.8,625.1 302.1,624.3 303.4,624.6 304.7,624.8 306.0,624.9 307.3,624.7 308.6,624.5 309.8,624.6 311.1,624.9 312.4,624.4 313.7,624.3 315.0,624.3 316.3,624.5 317.6,625.0 318.9,624.5 320.2,624.8 321.4,624.9 322.7,624.9 324.0,624.6 325.3,624.5 326.6,624.5 327.9,624.4 329.2,624.2 330.5,624.5 331.8,624.5 333.0,624.1 334.3,623.9 335.5,624.0 336.8,623.9 338.0,623.9 339.2,623.6 340.4,623.3 341.6,622.7 343.0,622.5 344.3,622.0 345.6,621.3 346.9,620.7 348.1,619.9 349.1,619.1 350.2,618.3 351.1,617.4 352.1,616.5 353.1,615.5 354.0,614.5 355.0,613.6 356.0,612.7 357.0,611.6 358.1,610.7 359.1,609.7 360.3,609.1 361.5,608.4 362.8,608.1 364.2,607.9 365.5,607.8 366.9,607.3 368.3,607.4 369.7,607.2 371.0,607.3 372.2,606.7 373.3,606.0 374.4,605.5 375.5,604.9 376.5,604.2 377.5,603.5 378.5,602.6 379.5,601.7 380.5,600.7 381.4,599.8 382.3,598.7 383.2,597.6 384.0,596.5 384.8,595.4 385.5,594.3 386.3,593.2 387.0,592.0 387.6,590.8 388.3,589.7 389.0,588.5 389.6,587.3 390.2,586.1 390.8,584.9 391.3,583.7 391.9,582.5 392.4,581.3 392.8,580.1 393.3,578.9 393.7,577.7 394.1,576.5 394.6,575.2 395.0,574.0 395.4,572.8 395.8,571.6 396.2,570.4 396.6,569.2 397.0,568.0 397.4,566.8 397.8,565.6 398.2,564.4 398.5,563.1 398.9,561.9 399.2,560.7 399.5,559.4 399.8,558.2 400.1,556.9 400.4,555.7 400.7,554.4 400.9,553.1 401.2,551.9 401.5,550.6 401.7,549.3 402.0,548.0 402.2,546.8 402.5,545.5 402.8,544.2 403.0,543.0 403.3,541.7 403.6,540.4 403.8,539.2 404.1,537.9 404.3,536.7 404.6,535.4 404.8,534.1 405.1,532.8 405.3,531.6 405.5,530.3 405.7,529.0 405.9,527.8 406.1,526.5 406.3,525.3 406.5,524.0 406.6,522.8 406.8,521.5 407.0,520.2 407.1,519.0 407.3,517.7 407.4,516.5 407.6,515.2 407.8,513.9 407.9,512.7 408.1,511.4 408.2,510.1 408.4,508.9 408.5,507.6 408.6,506.3 408.8,505.1 408.9,503.8 409.0,502.5 409.2,501.3 409.3,500.0 409.4,498.7 409.5,497.3 409.7,496.0 409.8,494.7 409.9,493.3 410.0,492.0 410.1,490.7 410.2,489.3 410.3,488.0 410.4,486.7 410.5,485.3 410.6,484.0 410.7,482.7 410.8,481.4 410.9,480.1 411.0,478.7 411.1,477.4 411.2,476.1 411.4,474.8 411.5,473.5 411.6,472.2 411.7,470.9 411.8,469.6 411.9,468.2 412.0,467.0 412.1,465.7 412.2,464.5 412.3,463.2 412.4,461.9 412.5,460.7 412.6,459.4 412.7,458.1 412.8,456.9 412.9,455.6 413.1,454.3 413.2,453.1 413.3,451.8 413.4,450.6 413.5,449.3 413.6,448.0 413.7,446.8 413.8,445.5 413.9,444.2 414.0,443.0 414.1,441.7 414.2,440.4 414.4,439.2 414.5,437.9 414.6,436.7 414.7,435.4 414.8,434.1 414.9,432.9 415.1,431.6 415.2,430.3 415.3,429.1 415.4,427.8 415.5,426.5 415.6,425.3 415.7,424.0 415.8,422.8 415.9,421.5 416.0,420.2 416.1,419.0 416.2,417.7 416.3,416.4 416.4,415.2 416.5,413.9 416.6,412.6 416.6,411.4 416.7,410.1 416.8,408.9 416.9,407.6 417.0,406.3 417.0,405.1 417.1,403.8 417.2,402.5 417.2,401.3 417.3,400.0 417.4,398.7 417.4,397.4 417.5,396.0 417.5,394.7 417.5,393.4 417.6,392.1 417.6,390.8 417.7,389.5 417.7,388.1 417.7,386.8 417.7,385.5 417.8,384.2 417.8,382.9 417.8,381.5 417.9,380.2 417.9,378.9 417.9,377.6 418.0,376.3 418.0,375.0 418.0,373.6 418.1,372.3 418.1,371.0 418.1,369.7 418.2,368.4 418.2,367.0 418.3,365.7 418.3,364.4 418.4,363.1 418.4,361.8 418.4,360.5 418.5,359.1 418.5,357.8 418.6,356.5 418.6,355.2 418.7,353.9 418.7,352.6 418.8,351.2 418.8,349.9 418.9,348.6 418.9,347.3 419.0,346.0 419.0,344.7 419.1,343.3 419.1,342.0 419.1,340.7 419.2,339.4 419.3,338.1 419.3,336.7 419.4,335.4 419.4,334.1 419.5,332.8 419.5,331.4 419.6,330.1 419.7,328.8 419.7,327.5 419.8,326.2 419.8,324.8 419.9,323.5 419.9,322.2 420.0,320.9 420.1,319.6 420.1,318.2 420.2,316.9 420.2,315.6 420.3,314.3 420.3,312.9 420.4,311.6 420.4,310.3 420.4,309.0 420.5,307.7 420.5,306.3 420.5,305.0 420.6,303.7 420.6,302.4 420.6,301.1 420.7,299.8 420.7,298.4 420.7,297.1 420.7,295.8 420.8,294.5 420.8,293.2 420.8,291.9 420.8,290.5 420.9,289.2 420.9,287.9 420.9,286.6 421.0,285.3 421.0,284.0 421.0,282.6 421.1,281.3 421.1,280.0 421.1,278.7 421.2,277.4 421.2,276.0 421.3,274.7 421.3,273.4 421.4,272.1 421.4,270.8 421.5,269.5 421.5,268.1 421.6,266.8 421.6,265.5 421.7,264.2 421.7,262.9 421.8,261.5 421.8,260.2 421.9,258.9 421.9,257.6 422.0,256.3 422.0,255.0 422.1,253.6 422.1,252.3 422.2,251.0 422.3,249.7 422.3,248.4 422.3,247.0 422.4,245.7 422.4,244.4 422.5,243.1 422.5,241.8 422.6,240.5 422.6,239.1 422.7,237.8 422.7,236.5 422.8,235.2 422.8,233.9 422.9,232.6 422.9,231.2 423.0,229.9 423.0,228.6 423.1,227.3 423.1,226.0 423.2,224.7 423.3,223.3 423.3,222.0 423.4,220.7 423.5,219.4 423.5,218.0 423.6,216.7 423.7,215.4 423.8,214.0 423.9,212.7 424.0,211.4 424.1,210.0 424.2,208.7 424.3,207.4 424.4,206.1 424.5,204.7 424.6,203.4 424.7,202.1 424.8,200.7 424.9,199.4 425.0,198.1 425.2,196.8 425.4,195.5 425.6,194.3 425.8,193.0 426.0,191.3 426.7,190.3 427.4,191.3 427.6,193.0 427.9,194.3 428.1,195.5 428.3,196.8 428.5,198.1 428.6,199.4 428.7,200.7 428.8,202.1 428.8,203.4 428.9,204.7 429.0,206.1 429.0,207.4 429.1,208.7 429.1,210.0 429.2,211.4 429.2,212.7 429.3,214.0 429.3,215.4 429.4,216.7 429.4,218.0 429.5,219.4 429.5,220.7 429.5,222.0 429.6,223.3 429.6,224.7 429.6,226.0 429.7,227.3 429.7,228.6 429.7,229.9 429.8,231.2 429.8,232.6 429.8,233.9 429.9,235.2 429.9,236.5 429.9,237.8 429.9,239.1 430.0,240.5 430.0,241.8 430.0,243.1 430.0,244.4 430.1,245.7 430.1,247.0 430.1,248.4 430.2,249.7 430.2,251.0 430.2,252.3 430.3,253.6 430.3,255.0 430.3,256.3 430.4,257.6 430.4,258.9 430.4,260.2 430.5,261.5 430.5,262.9 430.5,264.2 430.6,265.5 430.6,266.8 430.7,268.1 430.7,269.5 430.7,270.8 430.8,272.1 430.8,273.4 430.8,274.7 430.9,276.0 430.9,277.4 431.0,278.7 431.0,280.0 431.0,281.3 431.1,282.6 431.1,284.0 431.2,285.3 431.2,286.6 431.3,287.9 431.3,289.2 431.3,290.5 431.4,291.9 431.4,293.2 431.5,294.5 431.5,295.8 431.6,297.1 431.6,298.4 431.7,299.8 431.7,301.1 431.8,302.4 431.8,303.7 431.9,305.0 431.9,306.3 432.0,307.7 432.0,309.0 432.1,310.3 432.1,311.6 432.1,312.9 432.2,314.3 432.2,315.6 432.3,316.9 432.3,318.2 432.4,319.6 432.4,320.9 432.5,322.2 432.5,323.5 432.5,324.8 432.6,326.2 432.6,327.5 432.7,328.8 432.7,330.1 432.8,331.4 432.8,332.8 432.9,334.1 432.9,335.4 433.0,336.7 433.0,338.1 433.1,339.4 433.1,340.7 433.1,342.0 433.2,343.3 433.2,344.7 433.3,346.0 433.4,347.3 433.4,348.6 433.5,349.9 433.5,351.2 433.6,352.6 433.6,353.9 433.7,355.2 433.7,356.5 433.8,357.8 433.8,359.1 433.9,360.5 433.9,361.8 434.0,363.1 434.0,364.4 434.1,365.7 434.1,367.0 434.2,368.4 434.2,369.7 434.3,371.0 434.4,372.3 434.4,373.6 434.5,375.0 434.5,376.3 434.6,377.6 434.6,378.9 434.7,380.2 434.7,381.5 434.8,382.9 434.8,384.2 434.9,385.5 434.9,386.8 434.9,388.1 435.0,389.5 435.0,390.8 435.1,392.1 435.1,393.4 435.2,394.7 435.2,396.0 435.3,397.4 435.3,398.7 435.4,400.0 435.4,401.3 435.5,402.5 435.5,403.8 435.6,405.1 435.6,406.3 435.7,407.6 435.7,408.8 435.8,410.1 435.8,411.4 435.9,412.6 435.9,413.9 436.0,415.2 436.0,416.4 436.1,417.7 436.1,419.0 436.2,420.2 436.2,421.5 436.3,422.7 436.4,424.0 436.4,425.3 436.5,426.5 436.6,427.8 436.6,429.1 436.7,430.3 436.8,431.6 436.9,432.9 437.0,434.1 437.0,435.4 437.1,436.7 437.2,437.9 437.3,439.2 437.4,440.4 437.5,441.7 437.5,443.0 437.6,444.2 437.7,445.5 437.8,446.8 437.9,448.0 437.9,449.3 438.0,450.6 438.1,451.8 438.2,453.1 438.3,454.3 438.4,455.6 438.4,456.9 438.5,458.1 438.6,459.4 438.7,460.7 438.8,461.9 438.9,463.2 438.9,464.5 439.0,465.7 439.1,467.0 439.2,468.2 439.3,469.6 439.4,470.9 439.5,472.2 439.5,473.5 439.6,474.8 439.7,476.1 439.8,477.5 439.9,478.8 440.0,480.1 440.1,481.4 440.1,482.7 440.2,484.1 440.3,485.4 440.4,486.7 440.5,488.0 440.6,489.3 440.7,490.7 440.8,492.0 440.9,493.3 440.9,494.7 441.0,496.0 441.1,497.3 441.2,498.7 441.3,500.0 441.4,501.3 441.5,502.7 441.6,504.0 441.7,505.3 441.8,506.6 441.9,507.9 442.0,509.2 442.2,510.5 442.3,511.8 442.4,513.1 442.5,514.4 442.7,515.7 442.8,517.0 442.9,518.3 443.1,519.7 443.3,521.0 443.4,522.3 443.6,523.7 443.7,525.0 443.9,526.3 444.1,527.6 444.2,529.0 444.4,530.3 444.5,531.6 444.7,532.8 444.8,534.1 445.0,535.4 445.1,536.6 445.3,537.9 445.4,539.2 445.6,540.4 445.7,541.7 445.9,543.0 446.0,544.2 446.2,545.5 446.4,546.8 446.5,548.0 446.7,549.3 446.9,550.6 447.0,551.8 447.2,553.1 447.4,554.4 447.6,555.6 447.8,556.9 448.0,558.2 448.2,559.4 448.4,560.7 448.6,562.0 448.8,563.2 449.1,564.5 449.3,565.8 449.6,567.0 449.8,568.3 450.1,569.5 450.3,570.8 450.6,572.1 450.9,573.3 451.2,574.6 451.5,575.8 451.8,577.0 452.1,578.3 452.5,579.5 452.8,580.7 453.2,582.0 453.6,583.2 454.0,584.4 454.4,585.6 454.8,586.8 455.3,588.0 455.8,589.2 456.3,590.4 456.8,591.5 457.3,592.7 457.9,593.8 458.5,594.9 459.1,596.0 459.8,597.1 460.6,598.3 461.4,599.4 462.2,600.5 463.1,601.6 464.0,602.6 464.9,603.7 465.9,604.8 466.8,605.6 467.8,606.5 468.8,607.1 469.9,607.8 470.9,608.4 472.0,609.2 473.1,609.9 474.2,610.3 475.4,611.2 476.5,611.8 477.7,612.4 478.8,612.7 480.0,613.3 481.2,614.0 482.3,614.4 483.5,615.2 484.6,615.7 485.8,616.4 486.9,617.0 488.1,617.5 489.2,618.0 490.4,618.6 491.6,619.1 492.8,619.4 494.0,620.1 495.2,620.5 496.5,620.6 497.7,621.1 499.0,621.6 500.3,621.6 501.5,622.2 502.8,622.0 504.1,622.6 505.4,623.4 506.6,623.4 507.9,623.7 509.2,623.9 510.4,623.6 511.7,623.7 512.9,624.2 514.2,623.9 515.5,623.7 516.7,624.6 518.0,624.7 519.3,624.6 520.6,624.8 521.8,624.3 523.1,624.9 524.3,624.8 525.6,625.0 526.9,624.7 528.1,624.8 529.4,624.5 530.7,625.1 531.9,624.5 533.2,624.4 534.5,624.9 535.7,625.0 537.0,624.8 538.3,625.5 539.5,625.3 540.8,624.6 542.1,624.8 543.3,624.7 544.6,625.9 545.8,624.6 547.1,624.6 548.4,624.9 549.6,624.9 550.9,624.6 552.2,625.1 553.5,624.0 554.8,624.6 556.1,623.9 557.4,624.6 558.7,624.4 560.0,623.7 561.5,624.7 562.7,624.4 564.0,624.4 565.3,624.9 566.5,624.1 567.8,625.4 569.1,624.4 570.3,625.7 571.6,624.9 572.9,624.7 574.1,624.6 575.4,625.1 576.6,624.2 577.9,625.2 579.2,624.8 580.4,624.7 581.7,624.7 583.0,624.9 584.2,625.3 585.5,625.3 586.8,625.2 588.0,624.4 589.3,625.4 590.5,625.0 591.8,624.9 593.1,624.4 594.3,625.1 595.6,624.7 596.9,624.9 598.1,625.0 599.4,625.4 600.7,624.8 601.9,624.1 603.2,624.8 604.4,624.2 605.7,624.6 607.0,624.1 608.2,625.0 609.5,625.3 610.8,623.8 612.0,624.2 613.3,624.4 614.6,623.8 615.8,624.2 617.1,624.5 618.3,624.6 619.6,623.9 620.9,624.6 622.1,624.8 623.4,624.8 624.7,624.3 625.9,624.2 627.2,624.3 628.5,625.1 629.7,624.8 631.0,624.1 632.2,624.7 633.5,624.5 634.8,624.3 636.0,624.8 637.3,624.5 638.6,625.0 639.8,625.1 641.1,624.4 642.4,624.8 643.6,625.1 644.9,624.4 646.1,624.4 647.4,624.5 648.7,624.8 649.9,624.1 651.2,624.8 652.5,624.4 653.7,624.8 655.0,624.6 656.3,625.5 657.5,624.6 658.8,625.0 660.0,624.6 661.3,625.0 662.6,624.7 663.8,623.9 665.1,623.9 666.4,624.2 667.6,624.5 668.9,625.1 670.2,624.4 671.4,624.8 672.7,624.4 673.9,624.8 675.2,624.5 676.5,624.5 677.7,624.5 679.0,624.1 680.3,625.0 681.5,624.7 682.8,624.4 684.1,624.2 685.3,624.6 686.6,624.6 687.8,624.6 689.1,624.4 690.4,625.2 691.7,624.6 693.0,624.3 694.2,624.6 695.5,624.6 696.8,624.6 698.1,624.2 699.4,624.1 700.7,623.7 702.0,624.0 703.3,624.2 704.6,623.6 705.8,624.0 707.1,624.0 708.4,623.7 709.7,623.5 711.0,623.7 712.3,623.0 713.6,623.0 714.9,623.2 716.2,623.1 717.4,623.0 718.7,621.9 720.0,622.9 721.3,622.1 722.6,622.3 723.9,621.9 725.2,622.0 726.5,621.6 727.8,621.9 729.0,621.9 730.4,622.1 731.7,621.8 733.0,621.6 734.3,621.2 735.6,621.3 736.9,621.5 738.2,621.7 739.5,622.3 740.8,621.5 742.1,622.0 743.5,622.0 744.8,622.3 746.1,621.8 747.4,621.9 748.7,621.9 750.0,621.9 751.3,622.2 752.5,621.4 753.8,621.3 755.1,621.3 756.3,620.5 757.6,621.2 758.9,620.9 760.1,620.3 761.4,620.5 762.6,619.9 763.9,620.1 765.2,620.2 766.4,619.7 767.7,619.7 769.0,619.7 770.2,619.1 771.5,618.6 772.7,618.3 774.0,619.3 775.3,617.4 776.5,619.1 777.8,617.7 779.1,617.8 780.3,617.5 781.6,617.5 782.8,617.1 784.1,617.2 785.4,617.1 786.6,617.2 787.9,616.4 789.2,617.7 790.4,616.2 791.7,616.4 793.0,616.6 794.2,616.0 795.5,616.2 796.8,616.1 798.0,615.4 799.3,615.9 800.5,615.8 801.8,615.9 803.1,616.2 804.3,615.3 805.6,615.5 806.9,615.6 808.1,615.1 809.4,615.6 810.7,615.2 811.9,615.8 813.2,614.5 814.4,614.7 815.7,614.0 817.0,614.6 818.2,614.3 819.5,614.2 820.8,613.7 822.0,614.3 823.3,613.8 824.6,613.7 825.8,614.2 827.1,614.3 828.3,613.1 829.6,612.6 830.9,613.1 832.1,613.3 833.4,613.3 834.7,613.0 835.9,612.5 837.3,612.7 838.6,612.5 839.9,612.2 841.2,612.5 842.5,612.1 843.9,612.1 845.2,612.1 846.5,612.0 847.8,611.0 849.1,611.5 850.5,611.3 851.8,611.7 853.1,610.8 854.4,611.2 855.6,611.8 856.9,611.0 858.1,610.6 859.4,610.7 860.6,610.6 861.9,610.6 863.1,610.5 864.4,610.5 865.6,609.9 866.9,609.6 868.2,609.7 869.4,610.2 870.6,610.4 871.9,610.2 873.1,611.1 874.3,610.5 875.6,610.8 876.7,611.2 877.9,611.6 879.0,612.2 880.0,612.8 881.1,613.6 882.1,614.2 883.2,615.1 884.4,615.5 885.6,616.1 886.8,616.8 888.0,617.1 889.3,617.8 890.5,617.9 891.8,618.9 893.0,619.4 894.2,619.7 895.4,620.0 896.6,619.9 897.9,620.9 899.1,620.9 900.4,621.0 901.7,622.1 903.0,621.3 904.4,621.8 905.7,622.7 907.1,622.9 908.4,622.6 909.8,621.9 911.1,623.1 912.5,623.7 913.8,623.6 915.1,623.3 916.5,624.1 917.8,624.2 919.2,624.1 920.5,624.2 921.9,624.5 923.2,624.2 924.5,625.1 925.9,624.2 927.2,624.6 928.6,624.7 929.9,624.5 931.3,624.3 932.6,624.7 933.9,624.7 935.3,625.2 936.6,624.2 938.0,625.1 939.3,624.6 940.7,625.0 942.0,625.4 943.3,625.3 944.7,625.1 946.0,626.0 947.4,624.5 948.7,624.9 950.1,625.3 951.4,624.5 952.7,624.6 954.1,624.6 955.4,624.8 956.8,624.6 958.1,624.3 959.5,624.5"/>
  </defs>
  <rect width="1024" height="791" fill="#fff"/>
  <!-- curves -->
  <g fill="none" stroke-linejoin="round" stroke-linecap="round">
    <use href="#cBlue" stroke="#0a0aff" stroke-opacity="0.32" stroke-width="4.7"/>
    <use href="#cBlue" stroke="#0a0aff" stroke-width="2.9"/>
    <use href="#cBlack" stroke="#0a0a0a" stroke-opacity="0.32" stroke-width="4.1"/>
    <use href="#cBlack" stroke="#0a0a0a" stroke-width="2.4"/>
    <use href="#cRed" stroke="#ff0a0a" stroke-opacity="0.32" stroke-width="4.5"/>
    <use href="#cRed" stroke="#ff0a0a" stroke-width="2.8"/>
  </g>

  <!-- annotation arrows -->
  <g stroke="#111" stroke-width="1.5" fill="#111">
    <line x1="728.4" y1="520" x2="728.4" y2="668"/>
    <path d="M728.4,507.5 L732.6,526 L724.2,526 Z" stroke="none"/>
    <line x1="854.6" y1="470" x2="854.6" y2="668"/>
    <path d="M854.6,457.5 L858.8,476 L850.4,476 Z" stroke="none"/>
  </g>

  <!-- frame -->
  <g stroke="#111" fill="none">
    <line x1="79" y1="17.8" x2="964.5" y2="17.8" stroke="#444" stroke-width="3.6"/>
    <line x1="80.6" y1="16" x2="80.6" y2="670.5" stroke-width="2.8"/>
    <line x1="963" y1="16" x2="963" y2="670.5" stroke-width="2.8"/>
    <line x1="79.5" y1="669.3" x2="964.5" y2="669.3" stroke-width="3"/>
    <line x1="961.3" y1="506" x2="961.3" y2="562" stroke-width="2" stroke="#222"/>
  </g>
  <g stroke="#111" stroke-width="2.2">
    <line x1="135.9" y1="662.3" x2="135.9" y2="669"/>
    <line x1="191.1" y1="655.5" x2="191.1" y2="669"/>
    <line x1="246.2" y1="662.3" x2="246.2" y2="669"/>
    <line x1="301.4" y1="655.5" x2="301.4" y2="669"/>
    <line x1="356.6" y1="662.3" x2="356.6" y2="669"/>
    <line x1="411.7" y1="655.5" x2="411.7" y2="669"/>
    <line x1="466.9" y1="662.3" x2="466.9" y2="669"/>
    <line x1="522.0" y1="655.5" x2="522.0" y2="669"/>
    <line x1="577.1" y1="662.3" x2="577.1" y2="669"/>
    <line x1="632.3" y1="655.5" x2="632.3" y2="669"/>
    <line x1="687.4" y1="662.3" x2="687.4" y2="669"/>
    <line x1="742.6" y1="655.5" x2="742.6" y2="669"/>
    <line x1="797.7" y1="662.3" x2="797.7" y2="669"/>
    <line x1="852.9" y1="655.5" x2="852.9" y2="669"/>
    <line x1="908.0" y1="662.3" x2="908.0" y2="669"/>
  </g>

  <!-- tick labels -->
  <g class="sans">
    <text x="57.5" y="716.5" textLength="69.0" lengthAdjust="spacing">200</text>
    <text x="167.0" y="716.5" textLength="68.0" lengthAdjust="spacing">400</text>
    <text x="264.0" y="716.5" textLength="68.0" lengthAdjust="spacing">600</text>
    <text x="383.0" y="716.5" textLength="68.5" lengthAdjust="spacing">800</text>
    <text x="485.0" y="716.5" textLength="85.5" lengthAdjust="spacing">1000</text>
    <text x="594.0" y="716.5" textLength="87.5" lengthAdjust="spacing">1200</text>
    <text x="711.0" y="716.5" textLength="87.0" lengthAdjust="spacing">1400</text>
    <text x="822.0" y="716.5" textLength="86.5" lengthAdjust="spacing">1600</text>
    <text x="925.5" y="716.5" textLength="84.5" lengthAdjust="spacing">1800</text>
  </g>

  <!-- axis titles -->
  <g class="serif">
    <text transform="translate(314,767.5) scale(0.94,1)" textLength="202.1" lengthAdjust="spacing">Raman shift</text>
    <text transform="translate(525,767.5) scale(0.94,1)" textLength="62.8" lengthAdjust="spacing">(cm</text>
    <text transform="translate(585.5,756.5) scale(0.94,1)" x="0.0 18.1">-1</text>
    <text transform="translate(624.5,767.5) scale(1.1,1)" x="0.0">)</text>
    <text transform="translate(46,439) rotate(-90) scale(0.94,1)" textLength="137.2" lengthAdjust="spacing">Intenity</text>
    <text transform="translate(46,304.5) rotate(-90) scale(1.15,1)" stroke="none">(</text>
    <text transform="translate(46,285) rotate(-90) scale(0.94,1)" textLength="54.3" lengthAdjust="spacing">a.u.</text>
    <text transform="translate(46,226.5) rotate(-90) scale(1.15,1)" stroke="none">)</text>
  </g>

  <!-- annotations text -->
  <g class="serif">
    <text transform="translate(751,442.5) scale(0.94,1)" textLength="196.8" lengthAdjust="spacing">G 1606 cm</text>
    <text transform="translate(929.5,432) scale(0.94,1)" x="0.0 12.6">-1</text>
    <text transform="translate(624,504.5) scale(0.94,1)" textLength="195.7" lengthAdjust="spacing">D 1346 cm</text>
    <text transform="translate(801.5,493.5) scale(0.94,1)" x="0.0 12.6">-1</text>
  </g>

  <!-- legend -->
  <rect x="665" y="42.3" width="257" height="156" fill="#fff" stroke="#333" stroke-width="1.8"/>
  <g stroke-width="3" fill="none">
    <line x1="667" y1="88.2" x2="735.5" y2="88.2" stroke="#0a0aff"/>
    <line x1="667" y1="127.6" x2="735.5" y2="127.6" stroke="#0a0a0a"/>
    <line x1="667" y1="166.7" x2="735.5" y2="166.7" stroke="#ff0a0a"/>
  </g>
  <g class="serif">
    <text transform="translate(742,92.3) scale(0.94,1)" textLength="156.4" lengthAdjust="spacing">AgBG-0.5</text>
    <text transform="translate(742,138) scale(0.94,1)" x="0.0 26.1 35.6 50.0 64.9 92.0">Bi-rGO</text>
    <text transform="translate(742,183) scale(0.94,1)" x="0.0 26.1 37.4 63.0">BiVO</text>
    <text transform="translate(827,197) scale(0.94,1)" x="0.0">4</text>
  </g>
</svg>
</body>
</html>
